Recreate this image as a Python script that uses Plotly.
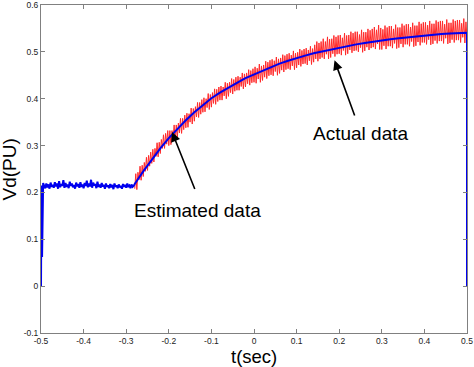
import plotly.graph_objects as go

# ---------------- data ----------------
# initial transient of the estimate (blue)
t_start = [-0.5, -0.4995, -0.499, -0.4975, -0.4965, -0.495]
v_start = [0.0, 0.14, 0.215, 0.062, 0.21, 0.22]

# noisy steady part of the estimate, t = -0.4925 ... -0.28 step 0.0025
v_flat = [
    0.214, 0.209, 0.219, 0.211, 0.217, 0.208, 0.221, 0.212, 0.216, 0.210,
    0.222, 0.213, 0.219, 0.208, 0.224, 0.211, 0.218, 0.214, 0.226, 0.210,
    0.220, 0.212, 0.217, 0.209, 0.223, 0.214, 0.219, 0.211, 0.216, 0.208,
    0.221, 0.213, 0.218, 0.210, 0.222, 0.212, 0.217, 0.209, 0.220, 0.214,
    0.225, 0.211, 0.219, 0.213, 0.227, 0.210, 0.221, 0.215, 0.218, 0.209,
    0.223, 0.212, 0.217, 0.210, 0.220, 0.213, 0.216, 0.208, 0.219, 0.212,
    0.215, 0.209, 0.218, 0.211, 0.216, 0.207, 0.219, 0.212, 0.215, 0.209,
    0.217, 0.211, 0.214, 0.208, 0.218, 0.212, 0.216, 0.210, 0.219, 0.213,
    0.215, 0.209, 0.217, 0.212, 0.214, 0.216,
]
t_flat = [round(-0.4925 + 0.0025 * i, 4) for i in range(len(v_flat))]

# smooth estimated curve, t = -0.28 ... 0.50 step 0.02
v_est = [
    0.218, 0.245, 0.270, 0.294, 0.316, 0.336, 0.354, 0.371, 0.387, 0.401,
    0.413, 0.424, 0.434, 0.444, 0.452, 0.460, 0.468, 0.475, 0.481, 0.487,
    0.492, 0.497, 0.501, 0.505, 0.509, 0.513, 0.516, 0.519, 0.522, 0.525,
    0.527, 0.529, 0.531, 0.533, 0.535, 0.537, 0.538, 0.539, 0.540, 0.541,
]
t_est = [round(-0.28 + 0.02 * i, 3) for i in range(len(v_est))]

# final drop of the estimate at t = 0.5
t_end = [0.5]
v_end = [0.0]

# actual (measured) data, t = -0.28 ... 0.50 step 0.0025
v_act = [
    0.208, 0.240, 0.206, 0.243, 0.227, 0.256, 0.226, 0.258,
    0.234, 0.264, 0.245, 0.275, 0.247, 0.279, 0.256, 0.286,
    0.262, 0.292, 0.265, 0.294, 0.277, 0.306, 0.276, 0.307,
    0.283, 0.313, 0.294, 0.323, 0.294, 0.326, 0.303, 0.332,
    0.300, 0.332, 0.302, 0.332, 0.313, 0.344, 0.310, 0.344,
    0.317, 0.348, 0.327, 0.358, 0.326, 0.358, 0.334, 0.365,
    0.338, 0.369, 0.339, 0.368, 0.350, 0.380, 0.346, 0.379,
    0.352, 0.383, 0.361, 0.392, 0.360, 0.392, 0.367, 0.398,
    0.371, 0.402, 0.372, 0.400, 0.381, 0.411, 0.377, 0.409,
    0.382, 0.413, 0.390, 0.421, 0.388, 0.420, 0.394, 0.425,
    0.397, 0.427, 0.397, 0.425, 0.406, 0.435, 0.400, 0.433,
    0.405, 0.435, 0.413, 0.443, 0.410, 0.441, 0.416, 0.446,
    0.418, 0.448, 0.418, 0.446, 0.426, 0.455, 0.421, 0.453,
    0.425, 0.455, 0.432, 0.462, 0.429, 0.460, 0.434, 0.464,
    0.435, 0.468, 0.433, 0.465, 0.442, 0.474, 0.435, 0.470,
    0.439, 0.472, 0.446, 0.480, 0.443, 0.478, 0.449, 0.482,
    0.451, 0.484, 0.449, 0.481, 0.458, 0.489, 0.450, 0.485,
    0.454, 0.487, 0.461, 0.494, 0.457, 0.492, 0.462, 0.495,
    0.464, 0.497, 0.462, 0.493, 0.470, 0.502, 0.462, 0.497,
    0.466, 0.499, 0.472, 0.506, 0.469, 0.503, 0.474, 0.506,
    0.475, 0.508, 0.472, 0.504, 0.481, 0.512, 0.473, 0.507,
    0.478, 0.515, 0.485, 0.522, 0.480, 0.519, 0.485, 0.522,
    0.488, 0.528, 0.485, 0.522, 0.495, 0.532, 0.485, 0.527,
    0.488, 0.528, 0.496, 0.535, 0.490, 0.532, 0.495, 0.535,
    0.496, 0.536, 0.493, 0.530, 0.503, 0.540, 0.493, 0.535,
    0.496, 0.536, 0.504, 0.543, 0.498, 0.540, 0.502, 0.543,
    0.503, 0.543, 0.500, 0.537, 0.509, 0.547, 0.499, 0.542,
    0.502, 0.542, 0.510, 0.549, 0.504, 0.546, 0.508, 0.549,
    0.510, 0.553, 0.506, 0.547, 0.517, 0.557, 0.505, 0.551,
    0.505, 0.548, 0.513, 0.556, 0.506, 0.552, 0.512, 0.555,
    0.512, 0.555, 0.508, 0.549, 0.518, 0.558, 0.507, 0.552,
    0.509, 0.552, 0.517, 0.560, 0.510, 0.556, 0.516, 0.559,
    0.516, 0.559, 0.512, 0.553, 0.522, 0.562, 0.511, 0.556,
    0.513, 0.556, 0.521, 0.564, 0.514, 0.560, 0.520, 0.563,
    0.520, 0.563, 0.516, 0.557, 0.526, 0.566, 0.515, 0.560,
    0.517, 0.560, 0.524, 0.567, 0.518, 0.564, 0.523, 0.566,
    0.523, 0.566, 0.518, 0.559, 0.529, 0.569, 0.517, 0.562,
    0.519, 0.562, 0.526, 0.569, 0.520, 0.566, 0.525, 0.568,
    0.525, 0.568, 0.520, 0.561, 0.531, 0.571, 0.519, 0.564,
    0.530,
]
t_act = [round(-0.28 + 0.0025 * i, 4) for i in range(len(v_act))]

x_ticks = [-0.5, -0.4, -0.3, -0.2, -0.1, 0, 0.1, 0.2, 0.3, 0.4, 0.5]
x_labels = ["-0.5", "-0.4", "-0.3", "-0.2", "-0.1", "0", "0.1", "0.2", "0.3", "0.4", "0.5"]
y_ticks = [-0.1, 0, 0.1, 0.2, 0.3, 0.4, 0.5, 0.6]
y_labels = ["-0.1", "0", "0.1", "0.2", "0.3", "0.4", "0.5", "0.6"]

# ---------------- figure ----------------
t_blue = t_start + t_flat + t_est + t_end
v_blue = v_start + v_flat + v_est + v_end

FONT = "Liberation Sans, Arial, sans-serif"

fig = go.Figure()
fig.add_trace(go.Scatter(x=t_act, y=v_act, mode="lines",
                         line=dict(color="#ff2a2a", width=1),
                         showlegend=False, hoverinfo="skip"))
fig.add_trace(go.Scatter(x=t_blue, y=v_blue, mode="lines",
                         line=dict(color="#0000ee", width=2),
                         showlegend=False, hoverinfo="skip"))

font_txt = dict(family=FONT, size=19, color="#000")
fig.add_annotation(x=-0.133, y=0.161, xref="x", yref="y", text="Estimated data",
                   showarrow=False, font=font_txt)
fig.add_annotation(x=-0.1925, y=0.329, ax=-0.1376, ay=0.204, xref="x", yref="y",
                   axref="x", ayref="y", text="", showarrow=True, arrowhead=2,
                   arrowsize=1.2, arrowwidth=1.6, arrowcolor="#000")
fig.add_annotation(x=0.2495, y=0.326, xref="x", yref="y", text="Actual data",
                   showarrow=False, font=font_txt)
fig.add_annotation(x=0.189, y=0.482, ax=0.2375, ay=0.361, xref="x", yref="y",
                   axref="x", ayref="y", text="", showarrow=True, arrowhead=2,
                   arrowsize=1.2, arrowwidth=1.6, arrowcolor="#000")

# axis titles
fig.add_annotation(x=0.5, y=-0.072, xref="paper", yref="paper", text="t(sec)",
                   showarrow=False, xanchor="center", yanchor="middle",
                   font=dict(family=FONT, size=18.5, color="#000"))
fig.add_annotation(x=-0.074, y=0.5, xref="paper", yref="paper", text="Vd(PU)",
                   showarrow=False, xanchor="center", yanchor="middle", textangle=-90,
                   font=dict(family=FONT, size=19, color="#000"))

axis_common = dict(showgrid=False, zeroline=False, showline=True, linecolor="#808080",
                   linewidth=1, mirror="ticks", ticks="inside", ticklen=4,
                   tickcolor="#808080", automargin=False, ticklabeloverflow="allow",
                   tickfont=dict(family=FONT, size=8.5, color="#222"))
fig.update_xaxes(range=[-0.5, 0.5], tickvals=x_ticks, ticktext=x_labels, **axis_common)
fig.update_yaxes(range=[-0.1, 0.6], tickvals=y_ticks, ticktext=y_labels, **axis_common)
fig.update_layout(width=474, height=367, margin=dict(l=41, r=7, t=5, b=34),
                  plot_bgcolor="white", paper_bgcolor="white")
fig.write_html("out.html", config={"displayModeBar": False},
               post_script="document.body.style.margin='0';document.body.style.padding='0';")
